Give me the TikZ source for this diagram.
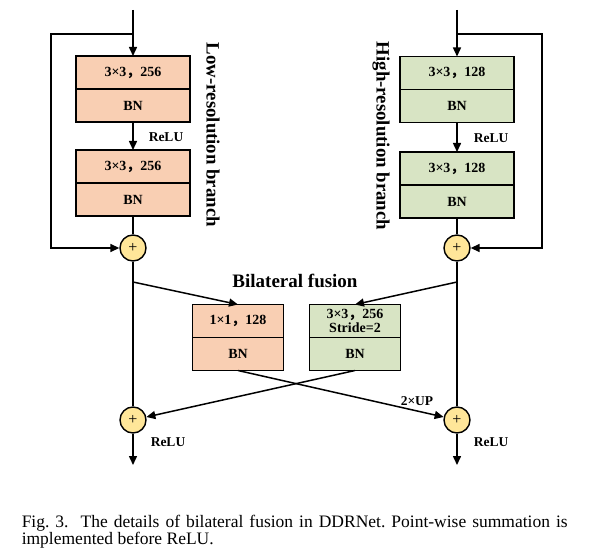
\documentclass[tikz,border=0pt]{standalone}
\usepackage{fontspec}
\setmainfont{Liberation Serif}
\newfontfamily\cjk{Noto Sans CJK SC}
\usetikzlibrary{arrows.meta,positioning}
\definecolor{lowfill}{HTML}{F9CFB3}
\definecolor{highfill}{HTML}{D8E4C4}
\definecolor{sumfill}{HTML}{FFE699}
\newcommand{\fwcomma}{{\cjk ，}}
\frenchspacing

\begin{document}
\begin{tikzpicture}[x=1pt, y=-1pt, >={Triangle[length=9pt, width=8pt]}, line width=1.5pt,
    layer/.style={draw, outer sep=0pt, inner sep=0pt, minimum width=114pt, minimum height=33pt,
        font=\fontsize{14}{15}\selectfont\bfseries},
    low/.style={layer, fill=lowfill},
    high/.style={layer, fill=highfill},
    fuse/.style={minimum width=91pt},
    sum/.style={circle, draw, fill=sumfill, minimum size=26pt, inner sep=0pt, line width=1.4pt,
        font=\fontsize{16}{16}\selectfont},
    lbl/.style={font=\fontsize{13.5}{15}\selectfont\bfseries}]
    \useasboundingbox (0, 0) rectangle (591, 553);
    % low-resolution branch
    \node[low] (la1) at (133, 72.5) {3×3\fwcomma256};
    \node[low, below=0pt of la1] (la1bn) {BN};
    \node[low] (la2) at (133, 166.5) {3×3\fwcomma256};
    \node[low, below=0pt of la2] (la2bn) {BN};
    \node[sum] (lsum1) at (133, 248) {+};
    \node[sum] (lsum2) at (133, 420) {+};
    \coordinate (lin) at (133, 10);
    \coordinate (lskip) at (133, 34);
    \coordinate (lloop) at (51, 248);
    \coordinate (lsplit) at (133, 282);
    \coordinate (lout) at (133, 465);
    % high-resolution branch
    \node[high] (ha1) at (457, 73) {3×3\fwcomma128};
    \node[high, below=0pt of ha1] (ha1bn) {BN};
    \node[high] (ha2) at (457, 168.5) {3×3\fwcomma128};
    \node[high, below=0pt of ha2] (ha2bn) {BN};
    \node[sum] (hsum1) at (457, 248) {+};
    \node[sum] (hsum2) at (457, 420) {+};
    \coordinate (hin) at (457, 10);
    \coordinate (hskip) at (457, 34);
    \coordinate (hloop) at (542, 248);
    \coordinate (hsplit) at (457, 282);
    \coordinate (hout) at (457, 465);
    % bilateral fusion
    \node[low, fuse] (lf1) at (238, 321) {1×1\fwcomma128};
    \node[low, fuse, below=0pt of lf1] (lf1bn) {BN};
    \node[high, fuse, align=center, font=\fontsize{14}{14}\selectfont\bfseries] (hf1) at (355, 321)
        {3×3\fwcomma256\\Stride=2};
    \node[high, fuse, below=0pt of hf1] (hf1bn) {BN};
    % labels
    \node[lbl] (relu1) at (166, 137) {ReLU};
    \node[lbl] (relu2) at (491, 138) {ReLU};
    \node[lbl] (relu3) at (168, 442) {ReLU};
    \node[lbl] (relu4) at (491, 442) {ReLU};
    \node[lbl] (up) at (417, 401) {2×UP};
    \node[font=\fontsize{19}{21}\selectfont\bfseries] (title) at (295, 281) {Bilateral fusion};
    \node[rotate=-90, font=\fontsize{18.8}{20}\selectfont\bfseries] (lowname) at (213, 135)
        {Low-resolution branch};
    \node[rotate=-90, font=\fontsize{18.8}{20}\selectfont\bfseries] (highname) at (381, 136)
        {High-resolution branch};
    \node[anchor=north west, align=justify, text width=546pt, inner sep=0pt,
        font=\fontsize{17.5}{17.5}\selectfont] (caption) at (21, 514)
        {Fig. 3.\ \ The details of bilateral fusion in DDRNet. Point-wise summation is\linebreak
        implemented before ReLU.};
    % connectors
    \draw[->] (lin) -- (la1);
    \draw[->] (la1bn) -- (la2);
    \draw (la2bn) -- (lsum1);
    \draw[->] (lskip) -| (lloop) -- (lsum1);
    \draw (lsum1) -- (lsum2);
    \draw[->] (lsum2) -- (lout);
    \draw[->] (hin) -- (ha1);
    \draw[->] (ha1bn) -- (ha2);
    \draw (ha2bn) -- (hsum1);
    \draw[->] (hskip) -| (hloop) -- (hsum1);
    \draw (hsum1) -- (hsum2);
    \draw[->] (hsum2) -- (hout);
    \draw[->] (lsplit) -- (lf1.north);
    \draw[->] (hsplit) -- (hf1.north);
    \draw[->] (lf1bn.south) -- (hsum2);
    \draw[->] (hf1bn.south) -- (lsum2);
\end{tikzpicture}
\end{document}
